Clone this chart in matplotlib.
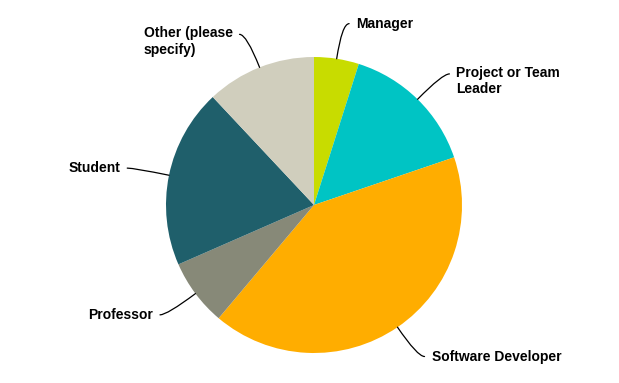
import numpy as np
import matplotlib
matplotlib.use('Agg')
import matplotlib.pyplot as plt

# 数据
labels = ['Manager', 'Project or Team\nLeader', 'Software Developer',
          'Professor', 'Student', 'Other (please\nspecify)']
shares = [4.9, 14.9, 41.4, 7.3, 19.6, 12.0]
colors = ['#c8dc00', '#00c4c4', '#ffad00', '#878978', '#1f5f6b', '#d0cebd']

plt.rcParams['font.family'] = ['Liberation Sans', 'DejaVu Sans']

fig = plt.figure(figsize=(6.19, 3.83), dpi=100)
ax = fig.add_axes([0, 0, 1, 1])

R = 148.0  # 半径 (像素)
cx, cy = 314.0, 383 - 205.0

wedges, _ = ax.pie(shares, colors=colors, startangle=90, counterclock=False,
                   wedgeprops=dict(linewidth=0))

ax.set_xlim(-cx / R, (619 - cx) / R)
ax.set_ylim(-cy / R, (383 - cy) / R)
ax.set_aspect('equal')
ax.axis('off')

# 标签和引导线 (弯曲的引导线)
for w, lab in zip(wedges, labels):
    ang = (w.theta1 + w.theta2) / 2.0
    a = np.deg2rad(ang)
    x, y = np.cos(a), np.sin(a)
    sgn = 1 if x > 0 else -1
    tx, ty = 1.24 * x + sgn * 7 / R, 1.24 * y
    ax.annotate('', xy=(x, y), xytext=(tx, ty),
                arrowprops=dict(arrowstyle='-', color='black', lw=0.9,
                                shrinkA=0, shrinkB=0,
                                connectionstyle=f'angle3,angleA=0,angleB={ang}'))
    ha = 'left' if x > 0 else 'right'
    off = sgn * 7 / R
    if '\n' in lab:
        ax.text(tx + off, ty + 8 / R, lab, ha=ha, va='top', multialignment='left',
                fontsize=10, fontweight='bold', linespacing=1.2)
    else:
        ax.text(tx + off, ty, lab, ha=ha, va='center',
                fontsize=10, fontweight='bold')

fig.savefig('out.png', dpi=100)
